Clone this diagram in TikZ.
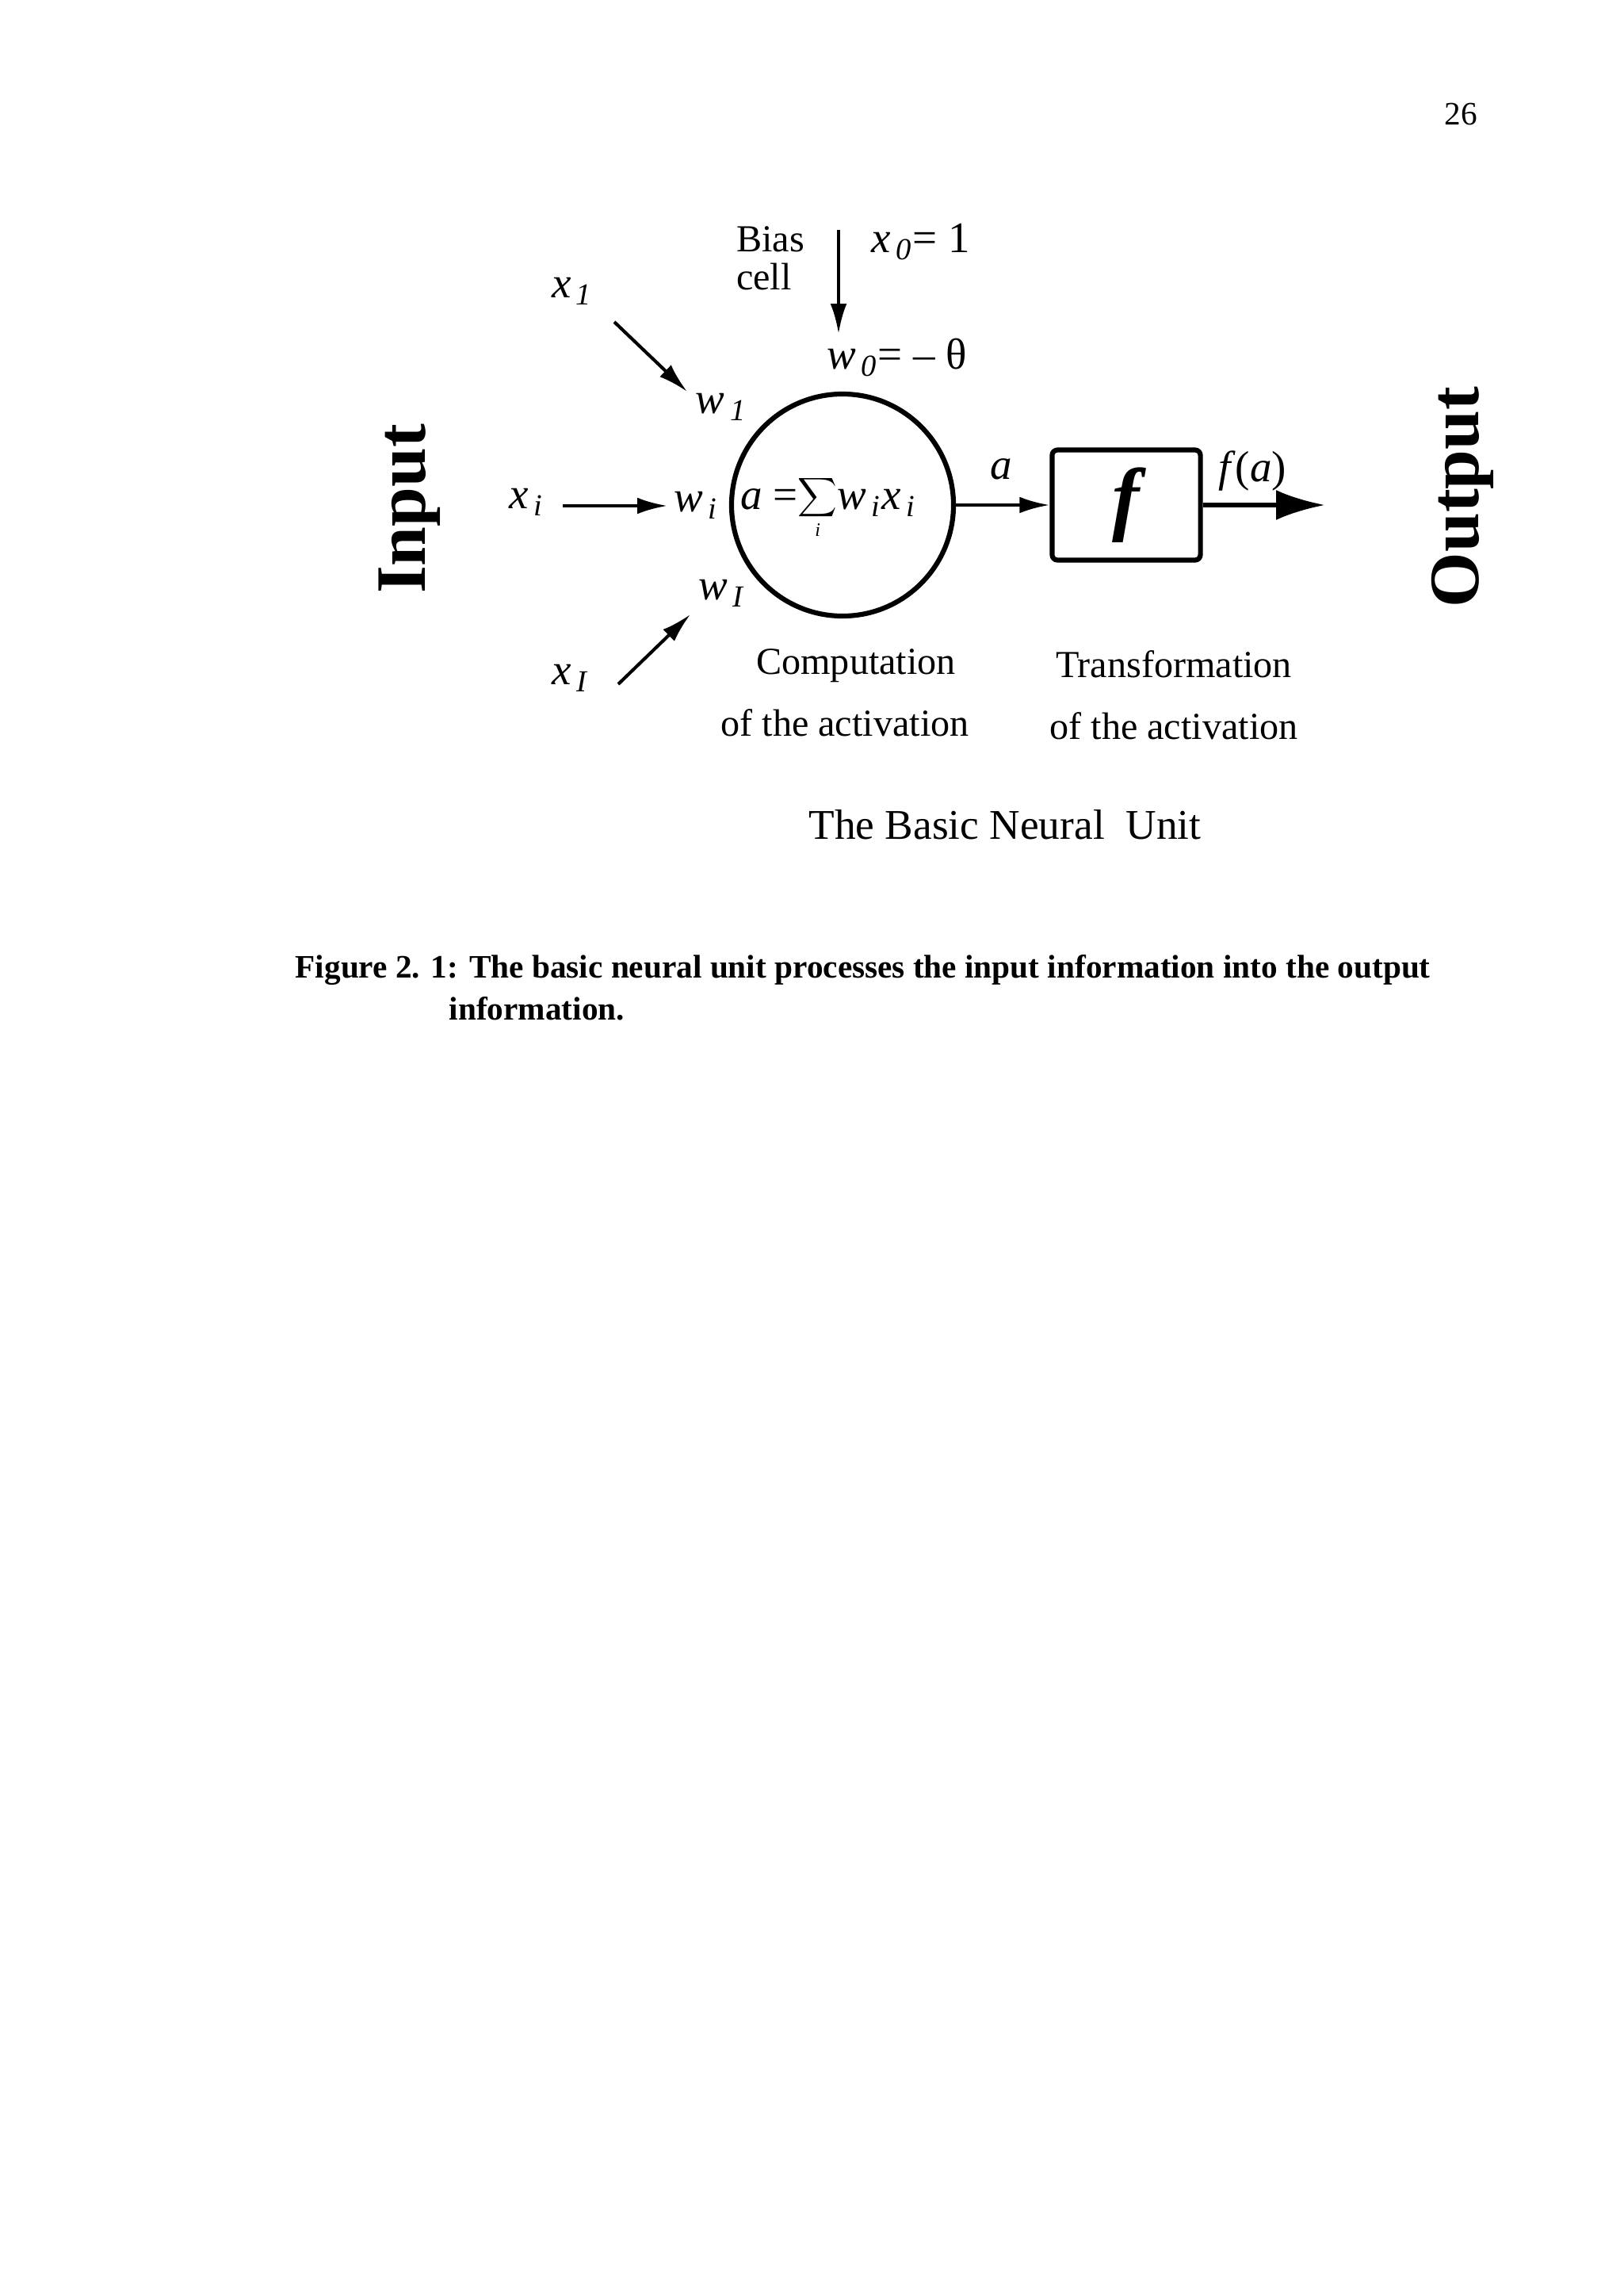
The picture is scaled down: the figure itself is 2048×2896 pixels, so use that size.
\documentclass[tikz,border=0pt]{standalone}
\usepackage{fontspec}
\setmainfont{Liberation Serif}
\usetikzlibrary{arrows.meta}
\newcommand{\iv}[2]{\textit{#1}\textsubscript{\,\textit{#2}}}
\begin{document}
\begin{tikzpicture}[x=0.29066pt,y=-0.29066pt,
  lab/.style={font=\fontsize{14}{16}\selectfont,inner sep=0pt},
  mlab/.style={font=\fontsize{16}{18}\selectfont,inner sep=0pt},
  arr/.style={line width=1.2pt,-{Latex[length=11pt,width=6pt]}}]
\useasboundingbox (0,0) rectangle (2048,2896);
\fill[white] (0,0) rectangle (2048,2896);
\node[font=\fontsize{12}{14}\selectfont] (pg) at (1843,144) {26};
\node[draw,circle,line width=1.8pt,minimum size=81.4pt,inner sep=0pt] (c) at (1063,637) {};
\node[mlab] (sum) at (1045,640) {\textit{a} =$\displaystyle\sum_{\textit{\scriptsize i}}$\iv{w}{i}\iv{x}{i}};
\node[draw,line width=1.8pt,rounded corners=2pt,minimum width=54.4pt,minimum height=40.4pt,inner sep=0pt] (f) at (1421,637) {};
\node[font=\fontsize{30}{30}\selectfont\bfseries\itshape] at (f) {f};
\node[rotate=90,font=\fontsize{26}{28}\selectfont\bfseries] (in) at (517,642) {Input};
\node[rotate=90,font=\fontsize{26}{28}\selectfont\bfseries] (out) at (1845,627) {Output};
% inputs
\node[mlab] (x1) at (722,367) {\iv{x}{1}};
\node[mlab] (xi) at (664,633) {\iv{x}{i}};
\node[mlab] (xI) at (720,855) {\iv{x}{I}};
\node[mlab] (w1) at (910,513) {\iv{w}{1}};
\node[mlab] (wi) at (878,637) {\iv{w}{i}};
\node[mlab] (wI) at (911,748) {\iv{w}{I}};
\coordinate (a1s) at (775,406); \coordinate (a1e) at (867,494);
\coordinate (a2s) at (710,638); \coordinate (a2e) at (842,638);
\coordinate (a3s) at (780,863); \coordinate (a3e) at (871,775);
\draw[arr] (a1s) -- (a1e);
\draw[arr] (a2s) -- (a2e);
\draw[arr] (a3s) -- (a3e);
% bias
\coordinate (bs) at (1058,290); \coordinate (be) at (1058,421);
\draw[arr] (bs) -- (be);
\node[lab,align=left] (bias) at (972,326) {Bias\\[-2pt]cell};
\node[mlab] (x0) at (1162,305) {\iv{x}{0}= 1};
\node[mlab] (w0) at (1132,451) {\iv{w}{0}= -- θ};
% output
\draw[arr] (c.east) -- (f.west);
\node[mlab] (alab) at (1263,592) {\textit{a}};
\draw[line width=1.8pt,-{Latex[length=18pt,width=11pt]}] (f.east) -- (1672,637) coordinate (oe);
\node[mlab] (fa) at (1580,594) {\textit{f}(\textit{a})};
% texts
\node[lab] (comp) at (1080,840) {Computation};
\node[lab] (comp2) at (1066,912) {of the activation};
\node[lab] (tr) at (1481,838) {Transformation};
\node[lab] (tr2) at (1481,916) {of the activation};
\node[font=\fontsize{15.5}{18}\selectfont] (title) at (1268,1040) {The Basic Neural\ \ Unit};
\node[anchor=west,font=\fontsize{12}{14}\selectfont\bfseries,inner sep=0pt] (cap1) at (372,1224) {Figure 2. 1: The basic neural unit processes the input information into the output};
\node[anchor=west,font=\fontsize{12}{14}\selectfont\bfseries,inner sep=0pt] (cap2) at (566,1272) {information.};
\end{tikzpicture}
\end{document}
